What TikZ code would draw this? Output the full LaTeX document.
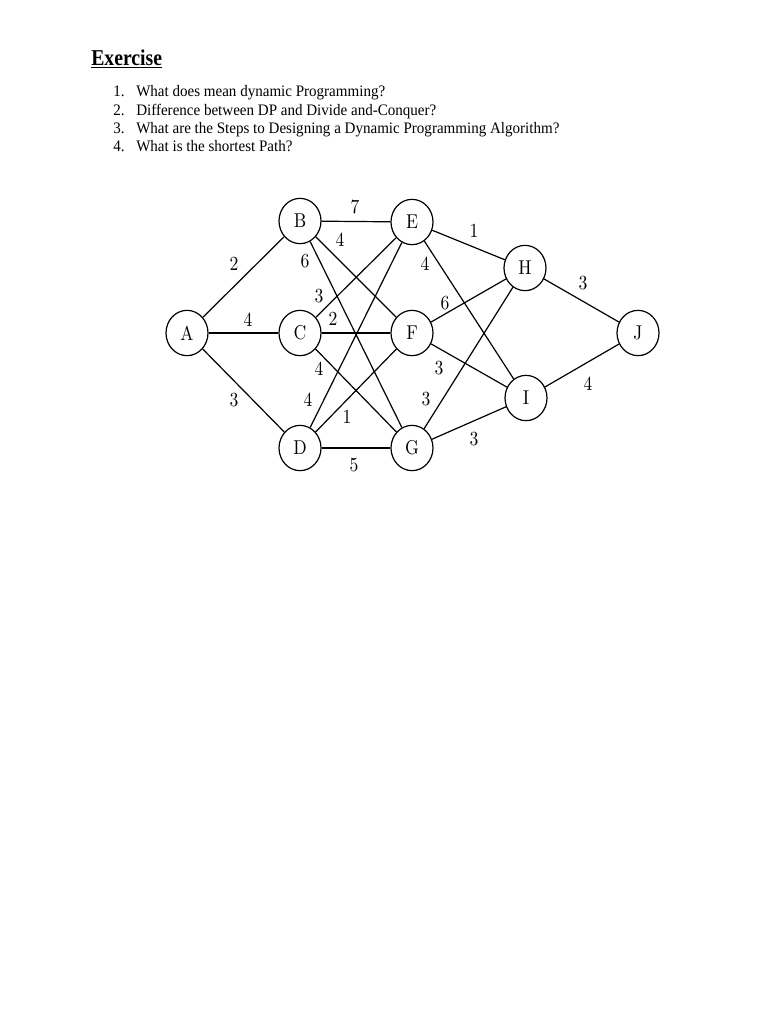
\documentclass[tikz,border=0pt]{standalone}
\usepackage{fontspec}
\newfontfamily\docfont[FakeStretch=0.94]{Liberation Serif}
\newfontfamily\titlefont[FakeStretch=0.87]{Liberation Serif}
\newfontfamily\graphfont[FakeStretch=0.88]{lmroman10-regular.otf}
\usetikzlibrary{shapes.geometric}

\begin{document}
\begin{tikzpicture}[x=0.75pt,y=-0.75pt,
    vertex/.style={draw,shape=ellipse,line width=0.9pt,minimum width=31.5pt,%
      minimum height=34pt,inner sep=0pt,font=\graphfont\fontsize{15}{18}\selectfont},
    weight/.style={inner sep=1pt,font=\graphfont\fontsize{15}{18}\selectfont},
    edge/.style={line width=0.9pt},
    item/.style={anchor=base west,inner sep=0pt,font=\docfont\fontsize{12}{14}\selectfont}]
      \fill[white] (0,0) rectangle (768,1024) ;
      % questions
      \node[anchor=base west,inner sep=0pt,font=\titlefont\bfseries\fontsize{17}{20}\selectfont] %
      (title) at (91,65) {\underline{Exercise}} ;
      \node[item] (q1) at (113,97) {\makebox[17.25pt][l]{1.}What does mean dynamic Programming?} ;
      \node[item] (q2) at (113,115) {\makebox[17.25pt][l]{2.}Difference between DP and Divide and-Conquer?} ;
      \node[item] (q3) at (113,133) {\makebox[17.25pt][l]{3.}What are the Steps to Designing a Dynamic Programming Algorithm?} ;
      \node[item] (q4) at (113,151) {\makebox[17.25pt][l]{4.}What is the shortest Path?} ;
      % the graph
      \node[vertex] (A) at (187,333) {A} ;
      \node[vertex] (B) at (300,221) {B} ;
      \node[vertex] (C) at (300,333) {C} ;
      \node[vertex] (D) at (300,448) {D} ;
      \node[vertex] (E) at (412,222) {E} ;
      \node[vertex] (F) at (412,333) {F} ;
      \node[vertex] (G) at (412,448) {G} ;
      \node[vertex] (H) at (525,268) {H} ;
      \node[vertex] (I) at (526,398) {I} ;
      \node[vertex] (J) at (638,333) {J} ;
      \draw[edge] (A)--(B) ; \node[weight] (wAB) at (234,264) {2} ;
      \draw[edge] (A)--(C) ; \node[weight] (wAC) at (248,320) {4} ;
      \draw[edge] (A)--(D) ; \node[weight] (wAD) at (234,400) {3} ;
      \draw[edge] (B)--(E) ; \node[weight] (wBE) at (355,207) {7} ;
      \draw[edge] (B)--(F) ; \node[weight] (wBF) at (340,240) {4} ;
      \draw[edge] (B)--(G) ; \node[weight] (wBG) at (305,261) {6} ;
      \draw[edge] (C)--(E) ; \node[weight] (wCE) at (319,296) {3} ;
      \draw[edge] (C)--(F) ; \node[weight] (wCF) at (333,319) {2} ;
      \draw[edge] (C)--(G) ; \node[weight] (wCG) at (319,369) {4} ;
      \draw[edge] (D)--(E) ; \node[weight] (wDE) at (308,400) {4} ;
      \draw[edge] (D)--(F) ; \node[weight] (wDF) at (347,417) {1} ;
      \draw[edge] (D)--(G) ; \node[weight] (wDG) at (354,465) {5} ;
      \draw[edge] (E)--(H) ; \node[weight] (wEH) at (474,231) {1} ;
      \draw[edge] (E)--(I) ; \node[weight] (wEI) at (425,264) {4} ;
      \draw[edge] (F)--(H) ; \node[weight] (wFH) at (445,303) {6} ;
      \draw[edge] (F)--(I) ; \node[weight] (wFI) at (439,368) {3} ;
      \draw[edge] (G)--(H) ; \node[weight] (wGH) at (426,399) {3} ;
      \draw[edge] (G)--(I) ; \node[weight] (wGI) at (474,439) {3} ;
      \draw[edge] (H)--(J) ; \node[weight] (wHJ) at (583,283) {3} ;
      \draw[edge] (I)--(J) ; \node[weight] (wIJ) at (588,384) {4} ;
    \end{tikzpicture}
\end{document}
